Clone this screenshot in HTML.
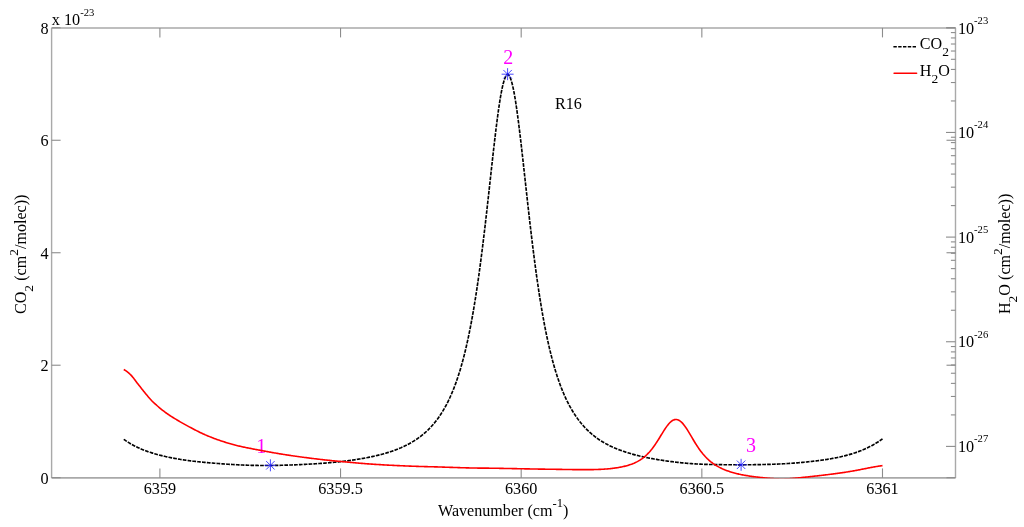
<!DOCTYPE html>
<html><head><meta charset="utf-8"><title>CO2 and H2O spectra</title>
<style>
html,body{margin:0;padding:0;background:#fff;width:1024px;height:527px;overflow:hidden}
svg{display:block}
text{font-family:"Liberation Serif","Times New Roman",serif;fill:#000}
</style></head><body>
<svg width="1024" height="527" viewBox="0 0 1024 527">
<rect width="1024" height="527" fill="#fff"/>
<defs><clipPath id="c"><rect x="51.6" y="27.9" width="903.9" height="450.3"/></clipPath></defs>
<line x1="51.6" y1="27.9" x2="955.5" y2="27.9" stroke="#a9a9a9" stroke-width="1.5"/>
<line x1="51.6" y1="477.9" x2="955.5" y2="477.9" stroke="#a9a9a9" stroke-width="1.6"/>
<line x1="51.6" y1="27.9" x2="51.6" y2="477.9" stroke="#a9a9a9" stroke-width="1.4"/>
<line x1="955.5" y1="27.9" x2="955.5" y2="477.9" stroke="#a9a9a9" stroke-width="1.4"/>
<line x1="159.89" y1="477.9" x2="159.89" y2="468.4" stroke="#8c8c8c" stroke-width="1.1"/>
<line x1="159.89" y1="27.9" x2="159.89" y2="37.4" stroke="#8c8c8c" stroke-width="1.1"/>
<line x1="340.54" y1="477.9" x2="340.54" y2="468.4" stroke="#8c8c8c" stroke-width="1.1"/>
<line x1="340.54" y1="27.9" x2="340.54" y2="37.4" stroke="#8c8c8c" stroke-width="1.1"/>
<line x1="521.19" y1="477.9" x2="521.19" y2="468.4" stroke="#8c8c8c" stroke-width="1.1"/>
<line x1="521.19" y1="27.9" x2="521.19" y2="37.4" stroke="#8c8c8c" stroke-width="1.1"/>
<line x1="701.84" y1="477.9" x2="701.84" y2="468.4" stroke="#8c8c8c" stroke-width="1.1"/>
<line x1="701.84" y1="27.9" x2="701.84" y2="37.4" stroke="#8c8c8c" stroke-width="1.1"/>
<line x1="882.49" y1="477.9" x2="882.49" y2="468.4" stroke="#8c8c8c" stroke-width="1.1"/>
<line x1="882.49" y1="27.9" x2="882.49" y2="37.4" stroke="#8c8c8c" stroke-width="1.1"/>
<line x1="51.6" y1="477.70" x2="60.6" y2="477.70" stroke="#8c8c8c" stroke-width="1.1"/>
<line x1="955.5" y1="477.70" x2="946.5" y2="477.70" stroke="#8c8c8c" stroke-width="1.1"/>
<line x1="51.6" y1="365.22" x2="60.6" y2="365.22" stroke="#8c8c8c" stroke-width="1.1"/>
<line x1="955.5" y1="365.22" x2="946.5" y2="365.22" stroke="#8c8c8c" stroke-width="1.1"/>
<line x1="51.6" y1="252.74" x2="60.6" y2="252.74" stroke="#8c8c8c" stroke-width="1.1"/>
<line x1="955.5" y1="252.74" x2="946.5" y2="252.74" stroke="#8c8c8c" stroke-width="1.1"/>
<line x1="51.6" y1="140.26" x2="60.6" y2="140.26" stroke="#8c8c8c" stroke-width="1.1"/>
<line x1="955.5" y1="140.26" x2="946.5" y2="140.26" stroke="#8c8c8c" stroke-width="1.1"/>
<line x1="51.6" y1="27.78" x2="60.6" y2="27.78" stroke="#8c8c8c" stroke-width="1.1"/>
<line x1="955.5" y1="27.78" x2="946.5" y2="27.78" stroke="#8c8c8c" stroke-width="1.1"/>
<line x1="955.5" y1="27.80" x2="946.0" y2="27.80" stroke="#8c8c8c" stroke-width="1.1"/>
<line x1="955.5" y1="100.95" x2="950.9" y2="100.95" stroke="#8c8c8c" stroke-width="1.1"/>
<line x1="955.5" y1="82.52" x2="950.9" y2="82.52" stroke="#8c8c8c" stroke-width="1.1"/>
<line x1="955.5" y1="69.44" x2="950.9" y2="69.44" stroke="#8c8c8c" stroke-width="1.1"/>
<line x1="955.5" y1="59.30" x2="950.9" y2="59.30" stroke="#8c8c8c" stroke-width="1.1"/>
<line x1="955.5" y1="51.02" x2="950.9" y2="51.02" stroke="#8c8c8c" stroke-width="1.1"/>
<line x1="955.5" y1="44.01" x2="950.9" y2="44.01" stroke="#8c8c8c" stroke-width="1.1"/>
<line x1="955.5" y1="37.94" x2="950.9" y2="37.94" stroke="#8c8c8c" stroke-width="1.1"/>
<line x1="955.5" y1="32.59" x2="950.9" y2="32.59" stroke="#8c8c8c" stroke-width="1.1"/>
<line x1="955.5" y1="132.45" x2="946.0" y2="132.45" stroke="#8c8c8c" stroke-width="1.1"/>
<line x1="955.5" y1="205.60" x2="950.9" y2="205.60" stroke="#8c8c8c" stroke-width="1.1"/>
<line x1="955.5" y1="187.17" x2="950.9" y2="187.17" stroke="#8c8c8c" stroke-width="1.1"/>
<line x1="955.5" y1="174.09" x2="950.9" y2="174.09" stroke="#8c8c8c" stroke-width="1.1"/>
<line x1="955.5" y1="163.95" x2="950.9" y2="163.95" stroke="#8c8c8c" stroke-width="1.1"/>
<line x1="955.5" y1="155.67" x2="950.9" y2="155.67" stroke="#8c8c8c" stroke-width="1.1"/>
<line x1="955.5" y1="148.66" x2="950.9" y2="148.66" stroke="#8c8c8c" stroke-width="1.1"/>
<line x1="955.5" y1="142.59" x2="950.9" y2="142.59" stroke="#8c8c8c" stroke-width="1.1"/>
<line x1="955.5" y1="137.24" x2="950.9" y2="137.24" stroke="#8c8c8c" stroke-width="1.1"/>
<line x1="955.5" y1="237.10" x2="946.0" y2="237.10" stroke="#8c8c8c" stroke-width="1.1"/>
<line x1="955.5" y1="310.25" x2="950.9" y2="310.25" stroke="#8c8c8c" stroke-width="1.1"/>
<line x1="955.5" y1="291.82" x2="950.9" y2="291.82" stroke="#8c8c8c" stroke-width="1.1"/>
<line x1="955.5" y1="278.74" x2="950.9" y2="278.74" stroke="#8c8c8c" stroke-width="1.1"/>
<line x1="955.5" y1="268.60" x2="950.9" y2="268.60" stroke="#8c8c8c" stroke-width="1.1"/>
<line x1="955.5" y1="260.32" x2="950.9" y2="260.32" stroke="#8c8c8c" stroke-width="1.1"/>
<line x1="955.5" y1="253.31" x2="950.9" y2="253.31" stroke="#8c8c8c" stroke-width="1.1"/>
<line x1="955.5" y1="247.24" x2="950.9" y2="247.24" stroke="#8c8c8c" stroke-width="1.1"/>
<line x1="955.5" y1="241.89" x2="950.9" y2="241.89" stroke="#8c8c8c" stroke-width="1.1"/>
<line x1="955.5" y1="341.75" x2="946.0" y2="341.75" stroke="#8c8c8c" stroke-width="1.1"/>
<line x1="955.5" y1="414.90" x2="950.9" y2="414.90" stroke="#8c8c8c" stroke-width="1.1"/>
<line x1="955.5" y1="396.47" x2="950.9" y2="396.47" stroke="#8c8c8c" stroke-width="1.1"/>
<line x1="955.5" y1="383.39" x2="950.9" y2="383.39" stroke="#8c8c8c" stroke-width="1.1"/>
<line x1="955.5" y1="373.25" x2="950.9" y2="373.25" stroke="#8c8c8c" stroke-width="1.1"/>
<line x1="955.5" y1="364.97" x2="950.9" y2="364.97" stroke="#8c8c8c" stroke-width="1.1"/>
<line x1="955.5" y1="357.96" x2="950.9" y2="357.96" stroke="#8c8c8c" stroke-width="1.1"/>
<line x1="955.5" y1="351.89" x2="950.9" y2="351.89" stroke="#8c8c8c" stroke-width="1.1"/>
<line x1="955.5" y1="346.54" x2="950.9" y2="346.54" stroke="#8c8c8c" stroke-width="1.1"/>
<line x1="955.5" y1="446.40" x2="946.0" y2="446.40" stroke="#8c8c8c" stroke-width="1.1"/>
<g clip-path="url(#c)">
<polyline points="123.76,439.31 124.66,439.95 125.57,440.57 126.47,441.18 127.37,441.76 128.28,442.34 129.18,442.89 130.08,443.43 130.99,443.96 131.89,444.47 132.79,444.97 133.70,445.45 134.60,445.92 135.50,446.38 136.41,446.83 137.31,447.27 138.21,447.69 139.12,448.10 140.02,448.50 140.92,448.89 141.82,449.28 142.73,449.65 143.63,450.01 144.53,450.36 145.44,450.70 146.34,451.04 147.24,451.36 148.15,451.68 149.05,451.99 149.95,452.29 150.86,452.59 151.76,452.88 152.66,453.16 153.57,453.43 154.47,453.70 155.37,453.96 156.28,454.22 157.18,454.47 158.08,454.72 158.99,454.96 159.89,455.19 160.79,455.42 161.70,455.65 162.60,455.86 163.50,456.08 164.41,456.29 165.31,456.50 166.21,456.70 167.12,456.90 168.02,457.09 168.92,457.28 169.83,457.47 170.73,457.65 171.63,457.83 172.54,458.01 173.44,458.18 174.34,458.35 175.25,458.52 176.15,458.68 177.05,458.84 177.95,458.99 178.86,459.15 179.76,459.29 180.66,459.44 181.57,459.58 182.47,459.72 183.37,459.86 184.28,460.00 185.18,460.13 186.08,460.26 186.99,460.38 187.89,460.51 188.79,460.63 189.70,460.75 190.60,460.86 191.50,460.98 192.41,461.09 193.31,461.20 194.21,461.30 195.12,461.41 196.02,461.51 196.92,461.61 197.83,461.71 198.73,461.80 199.63,461.89 200.54,461.99 201.44,462.08 202.34,462.17 203.25,462.25 204.15,462.34 205.05,462.42 205.96,462.50 206.86,462.59 207.76,462.67 208.67,462.74 209.57,462.82 210.47,462.90 211.38,462.97 212.28,463.05 213.18,463.12 214.08,463.20 214.99,463.27 215.89,463.34 216.79,463.41 217.70,463.48 218.60,463.55 219.50,463.62 220.41,463.69 221.31,463.75 222.21,463.82 223.12,463.88 224.02,463.95 224.92,464.01 225.83,464.07 226.73,464.14 227.63,464.20 228.54,464.25 229.44,464.31 230.34,464.37 231.25,464.42 232.15,464.48 233.05,464.53 233.96,464.58 234.86,464.63 235.76,464.68 236.67,464.73 237.57,464.78 238.47,464.82 239.38,464.87 240.28,464.91 241.18,464.95 242.09,464.99 242.99,465.03 243.89,465.07 244.80,465.11 245.70,465.14 246.60,465.17 247.51,465.21 248.41,465.23 249.31,465.26 250.22,465.29 251.12,465.31 252.02,465.34 252.92,465.36 253.83,465.38 254.73,465.40 255.63,465.41 256.54,465.43 257.44,465.44 258.34,465.45 259.25,465.46 260.15,465.47 261.05,465.48 261.96,465.49 262.86,465.49 263.76,465.49 264.67,465.49 265.57,465.50 266.47,465.49 267.38,465.49 268.28,465.49 269.18,465.48 270.09,465.48 270.99,465.47 271.89,465.46 272.80,465.45 273.70,465.44 274.60,465.42 275.51,465.41 276.41,465.39 277.31,465.37 278.22,465.35 279.12,465.33 280.02,465.31 280.93,465.29 281.83,465.27 282.73,465.24 283.64,465.22 284.54,465.19 285.44,465.16 286.34,465.14 287.25,465.11 288.15,465.08 289.05,465.05 289.96,465.01 290.86,464.98 291.76,464.95 292.67,464.92 293.57,464.88 294.47,464.84 295.38,464.81 296.28,464.77 297.18,464.73 298.09,464.69 298.99,464.65 299.89,464.61 300.80,464.57 301.70,464.53 302.60,464.48 303.51,464.44 304.41,464.39 305.31,464.34 306.22,464.30 307.12,464.25 308.02,464.20 308.93,464.15 309.83,464.10 310.73,464.04 311.64,463.99 312.54,463.94 313.44,463.88 314.35,463.82 315.25,463.77 316.15,463.71 317.06,463.65 317.96,463.59 318.86,463.53 319.77,463.46 320.67,463.40 321.57,463.33 322.48,463.27 323.38,463.20 324.28,463.13 325.18,463.06 326.09,462.99 326.99,462.92 327.89,462.84 328.80,462.77 329.70,462.69 330.60,462.61 331.51,462.53 332.41,462.45 333.31,462.36 334.22,462.28 335.12,462.19 336.02,462.10 336.93,462.01 337.83,461.91 338.73,461.82 339.64,461.72 340.54,461.62 341.44,461.52 342.35,461.41 343.25,461.31 344.15,461.20 345.06,461.09 345.96,460.97 346.86,460.86 347.77,460.74 348.67,460.62 349.57,460.49 350.48,460.37 351.38,460.24 352.28,460.11 353.19,459.98 354.09,459.84 354.99,459.71 355.90,459.57 356.80,459.43 357.70,459.28 358.61,459.13 359.51,458.98 360.41,458.83 361.31,458.68 362.22,458.52 363.12,458.36 364.02,458.20 364.93,458.03 365.83,457.86 366.73,457.69 367.64,457.52 368.54,457.34 369.44,457.16 370.35,456.97 371.25,456.78 372.15,456.59 373.06,456.40 373.96,456.20 374.86,455.99 375.77,455.78 376.67,455.57 377.57,455.35 378.48,455.13 379.38,454.91 380.28,454.68 381.19,454.44 382.09,454.20 382.99,453.95 383.90,453.70 384.80,453.44 385.70,453.18 386.61,452.91 387.51,452.64 388.41,452.36 389.32,452.07 390.22,451.78 391.12,451.48 392.03,451.17 392.93,450.85 393.83,450.53 394.73,450.20 395.64,449.87 396.54,449.52 397.44,449.17 398.35,448.81 399.25,448.44 400.15,448.06 401.06,447.68 401.96,447.28 402.86,446.87 403.77,446.46 404.67,446.03 405.57,445.59 406.48,445.14 407.38,444.68 408.28,444.21 409.19,443.72 410.09,443.23 410.99,442.72 411.90,442.19 412.80,441.65 413.70,441.10 414.61,440.53 415.51,439.95 416.41,439.35 417.32,438.73 418.22,438.10 419.12,437.45 420.03,436.78 420.93,436.09 421.83,435.38 422.74,434.65 423.64,433.90 424.54,433.13 425.45,432.33 426.35,431.51 427.25,430.67 428.16,429.80 429.06,428.90 429.96,427.97 430.87,427.02 431.77,426.04 432.67,425.02 433.57,423.97 434.48,422.89 435.38,421.78 436.28,420.62 437.19,419.43 438.09,418.20 438.99,416.93 439.90,415.62 440.80,414.26 441.70,412.86 442.61,411.41 443.51,409.90 444.41,408.34 445.32,406.73 446.22,405.06 447.12,403.33 448.03,401.54 448.93,399.68 449.83,397.76 450.74,395.76 451.64,393.69 452.54,391.55 453.45,389.32 454.35,387.01 455.25,384.61 456.16,382.12 457.06,379.53 457.96,376.84 458.87,374.05 459.77,371.15 460.67,368.14 461.58,365.01 462.48,361.75 463.38,358.37 464.29,354.85 465.19,351.20 466.09,347.40 466.99,343.45 467.90,339.34 468.80,335.07 469.70,330.64 470.61,326.03 471.51,321.24 472.41,316.27 473.32,311.12 474.22,305.77 475.12,300.22 476.03,294.47 476.93,288.53 477.83,282.37 478.74,276.02 479.64,269.46 480.54,262.69 481.45,255.73 482.35,248.58 483.25,241.24 484.16,233.73 485.06,226.05 485.96,218.23 486.87,210.27 487.77,202.21 488.67,194.07 489.58,185.87 490.48,177.64 491.38,169.43 492.29,161.26 493.19,153.19 494.09,145.24 495.00,137.48 495.90,129.94 496.80,122.69 497.71,115.76 498.61,109.22 499.51,103.11 500.42,97.48 501.32,92.38 502.22,87.86 503.12,83.95 504.03,80.70 504.93,78.12 505.83,76.24 506.74,75.02 507.64,74.37 508.54,74.95 509.45,76.13 510.35,77.96 511.25,80.48 512.16,83.69 513.06,87.55 513.96,92.03 514.87,97.09 515.77,102.68 516.67,108.75 517.58,115.27 518.48,122.17 519.38,129.40 520.29,136.92 521.19,144.66 522.09,152.60 523.00,160.67 523.90,168.83 524.80,177.04 525.71,185.27 526.61,193.47 527.51,201.62 528.42,209.69 529.32,217.65 530.22,225.48 531.13,233.17 532.03,240.70 532.93,248.05 533.84,255.22 534.74,262.19 535.64,268.97 536.55,275.55 537.45,281.92 538.35,288.09 539.26,294.05 540.16,299.81 541.06,305.37 541.96,310.74 542.87,315.91 543.77,320.89 544.67,325.69 545.58,330.31 546.48,334.76 547.38,339.04 548.29,343.16 549.19,347.12 550.09,350.93 551.00,354.60 551.90,358.12 552.80,361.52 553.71,364.78 554.61,367.92 555.51,370.94 556.42,373.85 557.32,376.64 558.22,379.34 559.13,381.93 560.03,384.43 560.93,386.83 561.84,389.15 562.74,391.38 563.64,393.53 564.55,395.60 565.45,397.60 566.35,399.53 567.26,401.39 568.16,403.19 569.06,404.92 569.97,406.59 570.87,408.21 571.77,409.77 572.68,411.28 573.58,412.74 574.48,414.15 575.38,415.52 576.29,416.84 577.19,418.12 578.09,419.36 579.00,420.56 579.90,421.72 580.80,422.85 581.71,423.94 582.61,425.00 583.51,426.02 584.42,427.02 585.32,427.98 586.22,428.92 587.13,429.83 588.03,430.71 588.93,431.57 589.84,432.40 590.74,433.20 591.64,433.99 592.55,434.75 593.45,435.48 594.35,436.20 595.26,436.90 596.16,437.57 597.06,438.23 597.97,438.87 598.87,439.49 599.77,440.09 600.68,440.67 601.58,441.24 602.48,441.80 603.39,442.33 604.29,442.86 605.19,443.37 606.10,443.86 607.00,444.34 607.90,444.81 608.81,445.27 609.71,445.72 610.61,446.15 611.52,446.57 612.42,446.99 613.32,447.39 614.22,447.79 615.13,448.17 616.03,448.55 616.93,448.91 617.84,449.27 618.74,449.62 619.64,449.97 620.55,450.31 621.45,450.63 622.35,450.96 623.26,451.27 624.16,451.58 625.06,451.88 625.97,452.18 626.87,452.47 627.77,452.76 628.68,453.04 629.58,453.31 630.48,453.58 631.39,453.84 632.29,454.10 633.19,454.35 634.10,454.60 635.00,454.84 635.90,455.08 636.81,455.31 637.71,455.54 638.61,455.76 639.52,455.98 640.42,456.20 641.32,456.41 642.23,456.61 643.13,456.82 644.03,457.01 644.94,457.21 645.84,457.40 646.74,457.59 647.64,457.77 648.55,457.95 649.45,458.12 650.35,458.30 651.26,458.47 652.16,458.63 653.06,458.80 653.97,458.96 654.87,459.12 655.77,459.27 656.68,459.42 657.58,459.57 658.48,459.72 659.39,459.87 660.29,460.01 661.19,460.15 662.10,460.29 663.00,460.43 663.90,460.56 664.81,460.70 665.71,460.83 666.61,460.95 667.52,461.08 668.42,461.21 669.32,461.33 670.23,461.45 671.13,461.57 672.03,461.68 672.94,461.80 673.84,461.91 674.74,462.02 675.65,462.13 676.55,462.23 677.45,462.34 678.36,462.44 679.26,462.53 680.16,462.63 681.07,462.72 681.97,462.82 682.87,462.90 683.77,462.99 684.68,463.07 685.58,463.16 686.48,463.24 687.39,463.31 688.29,463.39 689.19,463.46 690.10,463.53 691.00,463.60 691.90,463.66 692.81,463.72 693.71,463.78 694.61,463.84 695.52,463.89 696.42,463.95 697.32,464.00 698.23,464.05 699.13,464.09 700.03,464.14 700.94,464.18 701.84,464.22 702.74,464.25 703.65,464.29 704.55,464.32 705.45,464.35 706.36,464.38 707.26,464.41 708.16,464.43 709.07,464.46 709.97,464.48 710.87,464.50 711.78,464.52 712.68,464.54 713.58,464.56 714.49,464.57 715.39,464.59 716.29,464.60 717.20,464.62 718.10,464.63 719.00,464.64 719.91,464.65 720.81,464.66 721.71,464.67 722.61,464.69 723.52,464.70 724.42,464.71 725.32,464.71 726.23,464.72 727.13,464.73 728.03,464.74 728.94,464.75 729.84,464.76 730.74,464.76 731.65,464.77 732.55,464.78 733.45,464.78 734.36,464.79 735.26,464.79 736.16,464.80 737.07,464.80 737.97,464.80 738.87,464.80 739.78,464.80 740.68,464.80 741.58,464.80 742.49,464.80 743.39,464.80 744.29,464.79 745.20,464.79 746.10,464.78 747.00,464.78 747.91,464.77 748.81,464.76 749.71,464.75 750.62,464.74 751.52,464.73 752.42,464.71 753.33,464.70 754.23,464.68 755.13,464.67 756.03,464.65 756.94,464.64 757.84,464.62 758.74,464.60 759.65,464.59 760.55,464.57 761.45,464.55 762.36,464.53 763.26,464.51 764.16,464.49 765.07,464.47 765.97,464.44 766.87,464.42 767.78,464.40 768.68,464.37 769.58,464.34 770.49,464.32 771.39,464.29 772.29,464.26 773.20,464.23 774.10,464.20 775.00,464.16 775.91,464.13 776.81,464.09 777.71,464.06 778.62,464.02 779.52,463.98 780.42,463.94 781.33,463.89 782.23,463.85 783.13,463.80 784.04,463.75 784.94,463.70 785.84,463.65 786.75,463.60 787.65,463.54 788.55,463.48 789.46,463.42 790.36,463.36 791.26,463.30 792.17,463.24 793.07,463.17 793.97,463.10 794.87,463.03 795.78,462.96 796.68,462.89 797.58,462.81 798.49,462.73 799.39,462.65 800.29,462.57 801.20,462.49 802.10,462.41 803.00,462.32 803.91,462.23 804.81,462.15 805.71,462.05 806.62,461.96 807.52,461.87 808.42,461.77 809.33,461.68 810.23,461.58 811.13,461.48 812.04,461.37 812.94,461.27 813.84,461.16 814.75,461.06 815.65,460.95 816.55,460.84 817.46,460.72 818.36,460.61 819.26,460.49 820.17,460.37 821.07,460.25 821.97,460.12 822.88,459.99 823.78,459.86 824.68,459.73 825.59,459.60 826.49,459.46 827.39,459.32 828.30,459.17 829.20,459.02 830.10,458.87 831.00,458.72 831.91,458.56 832.81,458.40 833.71,458.23 834.62,458.06 835.52,457.89 836.42,457.71 837.33,457.52 838.23,457.34 839.13,457.14 840.04,456.95 840.94,456.74 841.84,456.53 842.75,456.32 843.65,456.10 844.55,455.88 845.46,455.65 846.36,455.41 847.26,455.17 848.17,454.92 849.07,454.66 849.97,454.40 850.88,454.13 851.78,453.85 852.68,453.57 853.59,453.28 854.49,452.98 855.39,452.67 856.30,452.36 857.20,452.04 858.10,451.71 859.01,451.37 859.91,451.02 860.81,450.67 861.72,450.30 862.62,449.93 863.52,449.55 864.43,449.16 865.33,448.76 866.23,448.35 867.13,447.92 868.04,447.49 868.94,447.05 869.84,446.60 870.75,446.13 871.65,445.65 872.55,445.17 873.46,444.66 874.36,444.15 875.26,443.62 876.17,443.08 877.07,442.53 877.97,441.96 878.88,441.37 879.78,440.78 880.68,440.16 881.59,439.53 882.49,438.88" fill="none" stroke="#000" stroke-width="1.65" stroke-dasharray="3.7,1.15"/>
</g>
<path d="M264.40,465.30H276.40M270.40,459.30V471.30M266.16,461.06L274.64,469.54M266.16,469.54L274.64,461.06" stroke="#1a1aff" stroke-width="0.8" fill="none"/>
<path d="M501.60,74.20H513.60M507.60,68.20V80.20M503.36,69.96L511.84,78.44M503.36,78.44L511.84,69.96" stroke="#1a1aff" stroke-width="0.8" fill="none"/>
<path d="M735.10,464.80H747.10M741.10,458.80V470.80M736.86,460.56L745.34,469.04M736.86,469.04L745.34,460.56" stroke="#1a1aff" stroke-width="0.8" fill="none"/>
<text x="48.6" y="483.7" text-anchor="end" font-size="16.2">0</text>
<text x="48.6" y="371.2" text-anchor="end" font-size="16.2">2</text>
<text x="48.6" y="258.7" text-anchor="end" font-size="16.2">4</text>
<text x="48.6" y="146.3" text-anchor="end" font-size="16.2">6</text>
<text x="48.6" y="33.8" text-anchor="end" font-size="16.2">8</text>
<text x="159.9" y="493.8" text-anchor="middle" font-size="16.2">6359</text>
<text x="340.5" y="493.8" text-anchor="middle" font-size="16.2">6359.5</text>
<text x="521.2" y="493.8" text-anchor="middle" font-size="16.2">6360</text>
<text x="701.8" y="493.8" text-anchor="middle" font-size="16.2">6360.5</text>
<text x="882.5" y="493.8" text-anchor="middle" font-size="16.2">6361</text>
<text x="957.9" y="34.40" font-size="16.2">10<tspan font-size="10.6" dy="-10.40">-23</tspan></text>
<text x="957.9" y="138.05" font-size="16.2">10<tspan font-size="10.6" dy="-9.60">-24</tspan></text>
<text x="957.9" y="242.70" font-size="16.2">10<tspan font-size="10.6" dy="-9.60">-25</tspan></text>
<text x="957.9" y="347.35" font-size="16.2">10<tspan font-size="10.6" dy="-9.60">-26</tspan></text>
<text x="957.9" y="452.35" font-size="16.2">10<tspan font-size="10.6" dy="-10.40">-27</tspan></text>
<text x="51.8" y="24.9" font-size="16.2">x 10<tspan font-size="10.6" dy="-9.3">-23</tspan></text>
<text x="438" y="515.5" font-size="16.1">Wavenumber (cm<tspan font-size="12.6" dy="-8.2">-1</tspan><tspan dy="8.2">)</tspan></text>
<text transform="translate(26,314) rotate(-90)" font-size="16.1">CO<tspan font-size="13.5" dy="7">2</tspan><tspan dy="-7"> (cm</tspan><tspan font-size="13.5" dy="-8.2">2</tspan><tspan dy="8.2">/molec))</tspan></text>
<text transform="translate(1010.4,314) rotate(-90)" font-size="16.1">H<tspan font-size="13.5" dy="7">2</tspan><tspan dy="-7">O (cm</tspan><tspan font-size="13.5" dy="-8.2">2</tspan><tspan dy="8.2">/molec))</tspan></text>
<text x="555" y="109.4" font-size="16.1">R16</text>
<text x="919.8" y="49.4" font-size="16.1">CO<tspan font-size="13.5" dy="7">2</tspan></text>
<text x="919.8" y="75.5" font-size="16.1">H<tspan font-size="13.5" dy="7">2</tspan><tspan dy="-7">O</tspan></text>
<text x="508.3" y="64" text-anchor="middle" font-size="20" style="fill:#ff00ff">2</text>
<text x="261.2" y="452.6" text-anchor="middle" font-size="20" style="fill:#ff00ff">1</text>
<text x="751.1" y="451.9" text-anchor="middle" font-size="20" style="fill:#ff00ff">3</text>
<g clip-path="url(#c)">
<polyline points="123.76,369.50 124.66,370.00 125.57,370.57 126.47,371.19 127.37,371.86 128.28,372.58 129.18,373.36 130.08,374.22 130.99,375.15 131.89,376.14 132.79,377.18 133.70,378.35 134.60,379.59 135.50,380.83 136.41,382.04 137.31,383.20 138.21,384.35 139.12,385.48 140.02,386.62 140.92,387.75 141.82,388.88 142.73,390.02 143.63,391.17 144.53,392.30 145.44,393.43 146.34,394.53 147.24,395.61 148.15,396.68 149.05,397.74 149.95,398.78 150.86,399.79 151.76,400.75 152.66,401.66 153.57,402.53 154.47,403.37 155.37,404.18 156.28,404.97 157.18,405.74 158.08,406.51 158.99,407.27 159.89,408.04 160.79,408.79 161.70,409.54 162.60,410.27 163.50,410.99 164.41,411.69 165.31,412.36 166.21,413.01 167.12,413.65 168.02,414.27 168.92,414.87 169.83,415.47 170.73,416.05 171.63,416.63 172.54,417.20 173.44,417.76 174.34,418.33 175.25,418.89 176.15,419.44 177.05,419.98 177.95,420.52 178.86,421.05 179.76,421.58 180.66,422.10 181.57,422.61 182.47,423.12 183.37,423.62 184.28,424.12 185.18,424.62 186.08,425.12 186.99,425.61 187.89,426.10 188.79,426.59 189.70,427.08 190.60,427.56 191.50,428.04 192.41,428.52 193.31,428.99 194.21,429.46 195.12,429.93 196.02,430.39 196.92,430.85 197.83,431.31 198.73,431.76 199.63,432.21 200.54,432.66 201.44,433.09 202.34,433.51 203.25,433.92 204.15,434.33 205.05,434.74 205.96,435.13 206.86,435.51 207.76,435.89 208.67,436.26 209.57,436.62 210.47,436.98 211.38,437.34 212.28,437.69 213.18,438.04 214.08,438.38 214.99,438.72 215.89,439.05 216.79,439.38 217.70,439.70 218.60,440.02 219.50,440.33 220.41,440.64 221.31,440.95 222.21,441.25 223.12,441.55 224.02,441.84 224.92,442.13 225.83,442.41 226.73,442.69 227.63,442.96 228.54,443.23 229.44,443.50 230.34,443.76 231.25,444.02 232.15,444.27 233.05,444.52 233.96,444.76 234.86,445.00 235.76,445.23 236.67,445.46 237.57,445.69 238.47,445.91 239.38,446.12 240.28,446.33 241.18,446.54 242.09,446.74 242.99,446.93 243.89,447.13 244.80,447.32 245.70,447.50 246.60,447.69 247.51,447.87 248.41,448.05 249.31,448.22 250.22,448.40 251.12,448.57 252.02,448.74 252.92,448.92 253.83,449.09 254.73,449.26 255.63,449.43 256.54,449.60 257.44,449.78 258.34,449.95 259.25,450.12 260.15,450.29 261.05,450.46 261.96,450.63 262.86,450.80 263.76,450.97 264.67,451.14 265.57,451.30 266.47,451.47 267.38,451.64 268.28,451.80 269.18,451.96 270.09,452.13 270.99,452.29 271.89,452.45 272.80,452.61 273.70,452.77 274.60,452.92 275.51,453.08 276.41,453.23 277.31,453.39 278.22,453.54 279.12,453.69 280.02,453.84 280.93,453.99 281.83,454.13 282.73,454.28 283.64,454.42 284.54,454.57 285.44,454.71 286.34,454.85 287.25,454.99 288.15,455.13 289.05,455.27 289.96,455.40 290.86,455.54 291.76,455.67 292.67,455.80 293.57,455.94 294.47,456.06 295.38,456.19 296.28,456.32 297.18,456.45 298.09,456.57 298.99,456.70 299.89,456.82 300.80,456.94 301.70,457.06 302.60,457.18 303.51,457.30 304.41,457.42 305.31,457.53 306.22,457.65 307.12,457.77 308.02,457.88 308.93,458.00 309.83,458.11 310.73,458.22 311.64,458.34 312.54,458.45 313.44,458.56 314.35,458.67 315.25,458.78 316.15,458.89 317.06,459.00 317.96,459.11 318.86,459.22 319.77,459.32 320.67,459.43 321.57,459.53 322.48,459.63 323.38,459.74 324.28,459.83 325.18,459.93 326.09,460.03 326.99,460.13 327.89,460.22 328.80,460.31 329.70,460.41 330.60,460.50 331.51,460.59 332.41,460.68 333.31,460.77 334.22,460.86 335.12,460.94 336.02,461.03 336.93,461.12 337.83,461.20 338.73,461.29 339.64,461.37 340.54,461.46 341.44,461.54 342.35,461.63 343.25,461.71 344.15,461.79 345.06,461.88 345.96,461.96 346.86,462.05 347.77,462.13 348.67,462.21 349.57,462.30 350.48,462.38 351.38,462.46 352.28,462.55 353.19,462.63 354.09,462.71 354.99,462.79 355.90,462.87 356.80,462.95 357.70,463.03 358.61,463.11 359.51,463.19 360.41,463.26 361.31,463.34 362.22,463.41 363.12,463.48 364.02,463.55 364.93,463.62 365.83,463.69 366.73,463.76 367.64,463.83 368.54,463.89 369.44,463.96 370.35,464.02 371.25,464.08 372.15,464.15 373.06,464.21 373.96,464.27 374.86,464.33 375.77,464.39 376.67,464.45 377.57,464.50 378.48,464.56 379.38,464.62 380.28,464.67 381.19,464.73 382.09,464.78 382.99,464.83 383.90,464.88 384.80,464.94 385.70,464.99 386.61,465.04 387.51,465.09 388.41,465.13 389.32,465.18 390.22,465.23 391.12,465.27 392.03,465.32 392.93,465.36 393.83,465.41 394.73,465.45 395.64,465.49 396.54,465.54 397.44,465.58 398.35,465.62 399.25,465.66 400.15,465.70 401.06,465.74 401.96,465.78 402.86,465.82 403.77,465.86 404.67,465.89 405.57,465.93 406.48,465.97 407.38,466.01 408.28,466.04 409.19,466.08 410.09,466.11 410.99,466.15 411.90,466.18 412.80,466.22 413.70,466.25 414.61,466.28 415.51,466.32 416.41,466.35 417.32,466.38 418.22,466.41 419.12,466.44 420.03,466.47 420.93,466.49 421.83,466.52 422.74,466.54 423.64,466.57 424.54,466.59 425.45,466.61 426.35,466.63 427.25,466.66 428.16,466.68 429.06,466.70 429.96,466.72 430.87,466.74 431.77,466.77 432.67,466.79 433.57,466.82 434.48,466.84 435.38,466.87 436.28,466.89 437.19,466.92 438.09,466.95 438.99,466.97 439.90,467.00 440.80,467.03 441.70,467.06 442.61,467.09 443.51,467.12 444.41,467.15 445.32,467.18 446.22,467.21 447.12,467.24 448.03,467.27 448.93,467.30 449.83,467.33 450.74,467.36 451.64,467.39 452.54,467.42 453.45,467.45 454.35,467.48 455.25,467.51 456.16,467.54 457.06,467.57 457.96,467.59 458.87,467.62 459.77,467.65 460.67,467.68 461.58,467.70 462.48,467.73 463.38,467.76 464.29,467.78 465.19,467.81 466.09,467.83 466.99,467.86 467.90,467.88 468.80,467.90 469.70,467.93 470.61,467.95 471.51,467.97 472.41,467.99 473.32,468.00 474.22,468.02 475.12,468.04 476.03,468.05 476.93,468.06 477.83,468.08 478.74,468.09 479.64,468.10 480.54,468.11 481.45,468.11 482.35,468.12 483.25,468.13 484.16,468.13 485.06,468.14 485.96,468.15 486.87,468.15 487.77,468.16 488.67,468.17 489.58,468.18 490.48,468.19 491.38,468.20 492.29,468.21 493.19,468.23 494.09,468.24 495.00,468.25 495.90,468.27 496.80,468.29 497.71,468.30 498.61,468.32 499.51,468.34 500.42,468.36 501.32,468.38 502.22,468.40 503.12,468.42 504.03,468.43 504.93,468.45 505.83,468.47 506.74,468.49 507.64,468.51 508.54,468.52 509.45,468.54 510.35,468.56 511.25,468.57 512.16,468.59 513.06,468.61 513.96,468.62 514.87,468.64 515.77,468.66 516.67,468.67 517.58,468.69 518.48,468.71 519.38,468.72 520.29,468.74 521.19,468.76 522.09,468.78 523.00,468.79 523.90,468.81 524.80,468.83 525.71,468.85 526.61,468.87 527.51,468.89 528.42,468.91 529.32,468.92 530.22,468.94 531.13,468.96 532.03,468.98 532.93,469.00 533.84,469.01 534.74,469.03 535.64,469.04 536.55,469.06 537.45,469.07 538.35,469.08 539.26,469.10 540.16,469.11 541.06,469.12 541.96,469.13 542.87,469.14 543.77,469.15 544.67,469.17 545.58,469.18 546.48,469.19 547.38,469.20 548.29,469.21 549.19,469.22 550.09,469.24 551.00,469.25 551.90,469.26 552.80,469.27 553.71,469.29 554.61,469.30 555.51,469.32 556.42,469.33 557.32,469.35 558.22,469.36 559.13,469.38 560.03,469.39 560.93,469.41 561.84,469.42 562.74,469.44 563.64,469.45 564.55,469.47 565.45,469.48 566.35,469.50 567.26,469.51 568.16,469.52 569.06,469.54 569.97,469.55 570.87,469.56 571.77,469.57 572.68,469.59 573.58,469.60 574.48,469.61 575.38,469.62 576.29,469.62 577.19,469.63 578.09,469.64 579.00,469.64 579.90,469.65 580.80,469.65 581.71,469.66 582.61,469.66 583.51,469.66 584.42,469.66 585.32,469.66 586.22,469.66 587.13,469.66 588.03,469.65 588.93,469.64 589.84,469.64 590.74,469.63 591.64,469.61 592.55,469.60 593.45,469.58 594.35,469.56 595.26,469.54 596.16,469.52 597.06,469.49 597.97,469.46 598.87,469.42 599.77,469.39 600.68,469.34 601.58,469.30 602.48,469.25 603.39,469.19 604.29,469.13 605.19,469.07 606.10,469.00 607.00,468.93 607.90,468.85 608.81,468.77 609.71,468.68 610.61,468.59 611.52,468.49 612.42,468.38 613.32,468.27 614.22,468.15 615.13,468.03 616.03,467.90 616.93,467.76 617.84,467.62 618.74,467.46 619.64,467.30 620.55,467.13 621.45,466.95 622.35,466.77 623.26,466.57 624.16,466.36 625.06,466.14 625.97,465.91 626.87,465.67 627.77,465.41 628.68,465.14 629.58,464.85 630.48,464.55 631.39,464.23 632.29,463.89 633.19,463.53 634.10,463.15 635.00,462.75 635.90,462.33 636.81,461.88 637.71,461.40 638.61,460.89 639.52,460.36 640.42,459.79 641.32,459.19 642.23,458.55 643.13,457.87 644.03,457.16 644.94,456.40 645.84,455.60 646.74,454.76 647.64,453.87 648.55,452.93 649.45,451.95 650.35,450.91 651.26,449.82 652.16,448.69 653.06,447.50 653.97,446.26 654.87,444.98 655.77,443.65 656.68,442.28 657.58,440.88 658.48,439.45 659.39,437.99 660.29,436.51 661.19,435.03 662.10,433.56 663.00,432.09 663.90,430.65 664.81,429.25 665.71,427.90 666.61,426.61 667.52,425.39 668.42,424.26 669.32,423.22 670.23,422.30 671.13,421.49 672.03,420.81 672.94,420.27 673.84,419.87 674.74,419.61 675.65,419.50 676.55,419.52 677.45,419.69 678.36,420.00 679.26,420.45 680.16,421.05 681.07,421.79 681.97,422.65 682.87,423.63 683.77,424.72 684.68,425.90 685.58,427.17 686.48,428.52 687.39,429.93 688.29,431.38 689.19,432.88 690.10,434.40 691.00,435.93 691.90,437.47 692.81,439.00 693.71,440.51 694.61,442.01 695.52,443.48 696.42,444.91 697.32,446.30 698.23,447.65 699.13,448.96 700.03,450.22 700.94,451.44 701.84,452.60 702.74,453.72 703.65,454.79 704.55,455.81 705.45,456.79 706.36,457.72 707.26,458.62 708.16,459.47 709.07,460.28 709.97,461.05 710.87,461.79 711.78,462.50 712.68,463.18 713.58,463.82 714.49,464.43 715.39,465.02 716.29,465.58 717.20,466.12 718.10,466.63 719.00,467.13 719.91,467.60 720.81,468.05 721.71,468.48 722.61,468.90 723.52,469.29 724.42,469.67 725.32,470.04 726.23,470.39 727.13,470.73 728.03,471.05 728.94,471.36 729.84,471.66 730.74,471.95 731.65,472.23 732.55,472.50 733.45,472.75 734.36,473.00 735.26,473.24 736.16,473.47 737.07,473.69 737.97,473.90 738.87,474.11 739.78,474.30 740.68,474.49 741.58,474.68 742.49,474.86 743.39,475.03 744.29,475.20 745.20,475.36 746.10,475.51 747.00,475.66 747.91,475.81 748.81,475.95 749.71,476.09 750.62,476.22 751.52,476.35 752.42,476.47 753.33,476.59 754.23,476.71 755.13,476.83 756.03,476.94 756.94,477.05 757.84,477.16 758.74,477.26 759.65,477.37 760.55,477.47 761.45,477.57 762.36,477.66 763.26,477.76 764.16,477.85 765.07,477.95 765.97,478.04 766.87,478.12 767.78,478.21 768.68,478.29 769.58,478.37 770.49,478.45 771.39,478.52 772.29,478.59 773.20,478.66 774.10,478.72 775.00,478.77 775.91,478.82 776.81,478.86 777.71,478.89 778.62,478.92 779.52,478.94 780.42,478.96 781.33,478.96 782.23,478.96 783.13,478.95 784.04,478.94 784.94,478.91 785.84,478.88 786.75,478.84 787.65,478.79 788.55,478.74 789.46,478.68 790.36,478.62 791.26,478.55 792.17,478.47 793.07,478.40 793.97,478.31 794.87,478.23 795.78,478.14 796.68,478.05 797.58,477.96 798.49,477.87 799.39,477.78 800.29,477.69 801.20,477.59 802.10,477.50 803.00,477.41 803.91,477.31 804.81,477.22 805.71,477.12 806.62,477.03 807.52,476.94 808.42,476.84 809.33,476.75 810.23,476.65 811.13,476.56 812.04,476.46 812.94,476.36 813.84,476.26 814.75,476.16 815.65,476.06 816.55,475.96 817.46,475.86 818.36,475.76 819.26,475.65 820.17,475.55 821.07,475.44 821.97,475.33 822.88,475.22 823.78,475.11 824.68,475.00 825.59,474.89 826.49,474.78 827.39,474.67 828.30,474.55 829.20,474.44 830.10,474.32 831.00,474.21 831.91,474.09 832.81,473.97 833.71,473.86 834.62,473.74 835.52,473.62 836.42,473.50 837.33,473.38 838.23,473.25 839.13,473.13 840.04,473.01 840.94,472.88 841.84,472.75 842.75,472.62 843.65,472.48 844.55,472.35 845.46,472.21 846.36,472.07 847.26,471.93 848.17,471.78 849.07,471.63 849.97,471.48 850.88,471.32 851.78,471.17 852.68,471.01 853.59,470.85 854.49,470.68 855.39,470.52 856.30,470.35 857.20,470.18 858.10,470.01 859.01,469.84 859.91,469.66 860.81,469.49 861.72,469.31 862.62,469.13 863.52,468.96 864.43,468.78 865.33,468.60 866.23,468.43 867.13,468.25 868.04,468.07 868.94,467.90 869.84,467.73 870.75,467.56 871.65,467.39 872.55,467.22 873.46,467.05 874.36,466.89 875.26,466.73 876.17,466.58 877.07,466.43 877.97,466.28 878.88,466.14 879.78,466.00 880.68,465.87 881.59,465.74 882.49,465.62" fill="none" stroke="#ff0000" stroke-width="1.6" stroke-linejoin="round"/>
</g>
<line x1="893.4" y1="46.7" x2="916.4" y2="46.7" stroke="#000" stroke-width="1.6" stroke-dasharray="3.4,1.4"/>
<line x1="894.1" y1="73.2" x2="916.6" y2="73.2" stroke="#ff0000" stroke-width="1.6" stroke-linecap="round"/>
</svg>
</body></html>
